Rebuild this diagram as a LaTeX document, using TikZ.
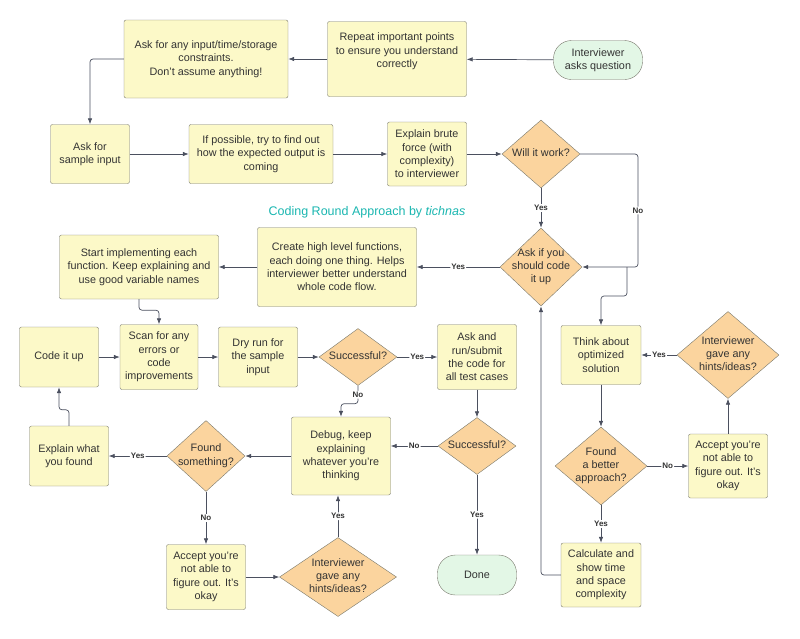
\documentclass[tikz,border=0pt]{standalone}
\usepackage{fontspec}
\setmainfont{Liberation Sans}
\usetikzlibrary{shapes.geometric,arrows.meta}

\definecolor{boxfill}{RGB}{252,249,200}
\definecolor{decfill}{RGB}{251,212,158}
\definecolor{endfill}{RGB}{227,247,230}
\definecolor{edgecol}{RGB}{120,120,108}
\definecolor{linecol}{RGB}{75,80,95}
\definecolor{txtcol}{RGB}{51,51,51}
\definecolor{titlecol}{RGB}{26,182,176}

\newcommand{\dtxt}[1]{\smash{\makebox[0pt]{\raisebox{-2.5pt}{\begin{tabular}{@{}c@{}}#1\end{tabular}}}}}

\begin{document}
\begin{tikzpicture}[x=1pt,y=-1pt,
  every node/.style={font=\fontsize{10.8}{13.3}\selectfont, text=txtcol},
  sz/.style 2 args={minimum width=#1, minimum height=#2},
  box/.style={draw=edgecol, fill=boxfill, rounded corners=2pt, align=center, inner sep=1pt},
  decision/.style={diamond, draw=edgecol, fill=decfill, inner sep=0pt},
  terminal/.style={draw=edgecol, fill=endfill, rounded corners=18pt, align=center, inner sep=2pt},
  arr/.style={draw=linecol, line width=0.7pt, rounded corners=3pt, -{Latex[length=6pt,width=4.5pt]}},
  lbl/.style={font=\fontsize{8}{9}\selectfont\bfseries, fill=white, inner sep=1pt}]
\useasboundingbox (0,0) rectangle (800,638);

% first rows
\node[box, sz={164}{78}] (constraints) at (206,59) {Ask for any input/time/storage\\constraints.\\Don't assume anything!};
\node[box, sz={139}{75}] (repeatpts) at (397,59) {Repeat important points\\to ensure you understand\\correctly\\[4pt]};
\node[terminal, sz={89}{39}] (asks) at (598,60) {Interviewer\\asks question};
\node[box, sz={79}{59}] (sample) at (90,154) {Ask for\\sample input};
\node[box, sz={144}{59}] (possible) at (261,154) {If possible, try to find out\\how the expected output is\\coming};
\node[box, sz={79}{64}] (brute) at (427,154) {Explain brute\\force (with\\complexity)\\to interviewer};
\node[decision, sz={78}{68}] (works) at (541,154) {\dtxt{Will it work?}};

\node[font=\fontsize{12.5}{14}\selectfont, text=titlecol] (title) at (367,212) {Coding Round Approach by \textit{tichnas}};

\node[box, sz={159}{64}] (implement) at (139,267) {Start implementing each\\function. Keep explaining and\\use good variable names};
\node[box, sz={159}{79}] (highlevel) at (337,267) {Create high level functions,\\each doing one thing. Helps\\interviewer better understand\\whole code flow.};
\node[decision, sz={82}{78}] (askcode) at (541,267) {\dtxt{Ask if you\\should code\\it up}};

\node[box, sz={79}{60}] (codeup) at (59,357) {Code it up};
\node[box, sz={78}{65}] (scan) at (159,357) {Scan for any\\errors or\\code\\improvements};
\node[box, sz={79}{60}] (dryrun) at (258,357) {Dry run for\\the sample\\input};
\node[decision, sz={78}{57}] (succa) at (358,357) {\dtxt{Successful?}};
\node[box, sz={79}{65}] (submit) at (477,357) {Ask and\\run/submit\\the code for\\all test cases};
\node[box, sz={80}{59}] (think) at (601,355) {Think about\\optimized\\solution};
\node[decision, sz={102}{87}] (hintsr) at (728,355) {\dtxt{Interviewer\\gave any\\hints/ideas?}};

\node[box, sz={79}{60}] (explainf) at (69,456) {Explain what\\you found};
\node[decision, sz={78}{71}] (foundsth) at (206,456) {\dtxt{Found\\something?}};
\node[box, sz={99}{78}] (debug) at (341,456) {Debug, keep\\explaining\\whatever you're\\thinking};
\node[decision, sz={78}{57}] (succb) at (477,446) {\dtxt{Successful?}};
\node[decision, sz={92}{78}] (better) at (601,466) {\dtxt{Found\\a better\\approach?}};
\node[box, sz={79}{64}] (acceptr) at (728,466) {Accept you're\\not able to\\figure out. It's\\okay};

\node[box, sz={79}{65}] (acceptl) at (206,577) {Accept you're\\not able to\\figure out. It's\\okay};
\node[decision, sz={117}{79}] (hintsl) at (338,577) {\dtxt{Interviewer\\gave any\\hints/ideas?}};
\node[terminal, sz={79}{40}] (done) at (477,575) {Done};
\node[box, sz={80}{64}] (calc) at (601,575) {Calculate and\\show time\\and space\\complexity};

\coordinate (nojoin) at (638,267);
\coordinate (nosplit) at (627,267);

% connectors
\draw[arr] (asks) -- (repeatpts);
\draw[arr] (repeatpts) -- (constraints);
\draw[arr] (constraints.west) -| (sample.north);
\draw[arr] (sample) -- (possible);
\draw[arr] (possible) -- (brute);
\draw[arr] (brute) -- (works);
\draw[arr] (works.south) -- node[lbl] {Yes} (askcode.north);
\draw[arr] (works.east) -| node[lbl, pos=0.75] {No} (nojoin) -- (askcode.east);
\draw[arr] (nosplit) -- ++(0,29) -| (think.north);
\draw[arr] (askcode.west) -- node[lbl] {Yes} (highlevel.east);
\draw[arr] (highlevel) -- (implement);
\draw[arr] (implement.south) -- ++(0,11) -| (scan.north);
\draw[arr] (codeup) -- (scan);
\draw[arr] (scan) -- (dryrun);
\draw[arr] (dryrun) -- (succa);
\draw[arr] (succa.east) -- node[lbl] {Yes} (submit.west);
\draw[arr] (succa.south) -- node[lbl] {No} ++(0,18) -| (debug.north);
\draw[arr] (submit.south) -- (succb.north);
\draw[arr] (succb.west) -- node[lbl] {No} (succb.west -| debug.east);
\draw[arr] (succb.south) -- node[lbl] {Yes} (done.north);
\draw[arr] (debug) -- (foundsth);
\draw[arr] (foundsth.west) -- node[lbl] {Yes} (explainf.east);
\draw[arr] (explainf.north) -- ++(0,-16) -| (codeup.south);
\draw[arr] (foundsth.south) -- node[lbl] {No} (acceptl.north);
\draw[arr] (acceptl) -- (hintsl);
\draw[arr] (hintsl.north) -- node[lbl] {Yes} (hintsl.north |- debug.south);
\draw[arr] (calc.west) -| (askcode.south);
\draw[arr] (think) -- (better);
\draw[arr] (better.east) -- node[lbl] {No} (acceptr.west);
\draw[arr] (acceptr) -- (hintsr);
\draw[arr] (hintsr.west) -- node[lbl] {Yes} (think.east);
\draw[arr] (better.south) -- node[lbl] {Yes} (calc.north);
\end{tikzpicture}
\end{document}
